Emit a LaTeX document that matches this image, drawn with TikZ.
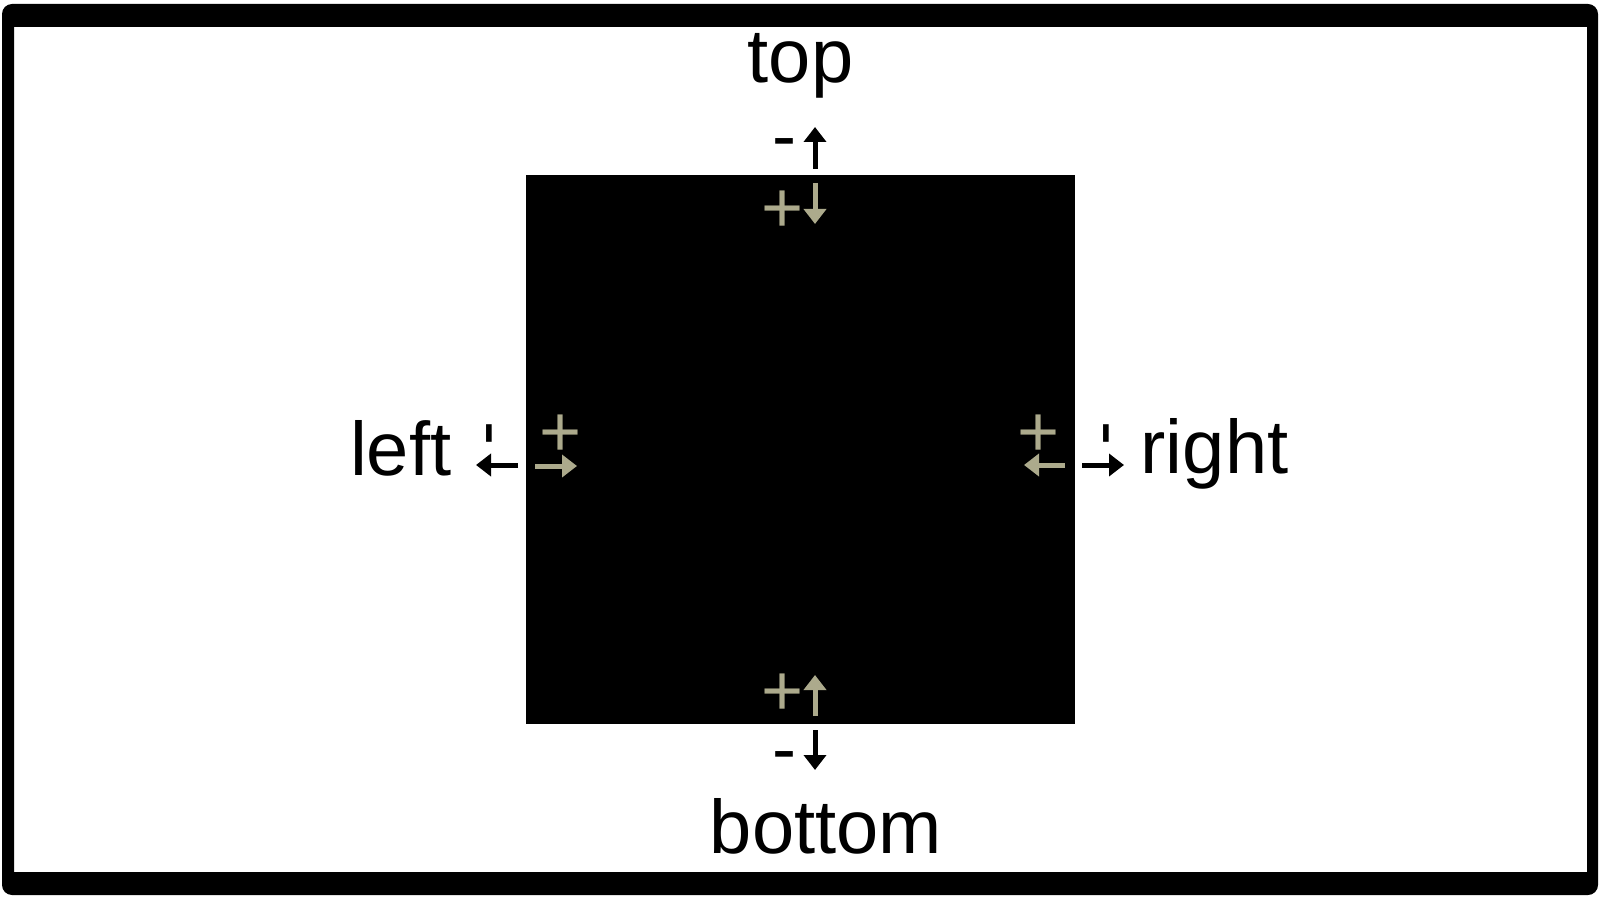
\documentclass[tikz,border=0pt]{standalone}
\usepackage{fontspec}
\setmainfont{Liberation Sans}
\usetikzlibrary{arrows.meta,positioning}
\definecolor{sand}{RGB}{172,170,140}
\tikzset{
  word/.style = {font=\fontsize{21.6}{25}\selectfont, inner sep=0pt, outer sep=0pt},
  sign/.style = {font=\fontsize{20.5}{24}\selectfont, inner sep=0pt, outer sep=0pt, anchor=base},
  pin/.style  = {line width=0.5mm, -{Triangle[width=2.2mm,length=1.5mm]}}
}

\begin{document}
\begin{tikzpicture}[x=0.1mm, y=-0.1mm]
   \useasboundingbox (0,0) rectangle (1600,900);
   % frame
   \fill[even odd rule] [rounded corners=1mm] (2,4) rectangle (1598,895)
        [sharp corners] (14,27) rectangle (1587,872);

   % nodes
   \node[fill=black, minimum size=54.9mm, inner sep=0pt] (face) at (800.5,449.5) {};
   \node[word, above=9.2mm of face.north, anchor=base] (top) {top};
   \node[word, below=12.9mm of face.south, xshift=2.55mm, anchor=base] (bottom) {bottom};
   \node[word, left=7.4mm of face.west, yshift=-2.55mm, anchor=base east] (left) {left};
   \node[word, right=6.5mm of face.east, yshift=-2.45mm, anchor=base west] (right) {right};

   % signs
   \node[sign] (tminus) at (784,161) {-};
   \node[sign, sand] (tplus) at (783,233) {+};
   \node[sign, sand] (bplus) at (783,715) {+};
   \node[sign] (bminus) at (784,773) {-};
   \node[sign, sand] (lplus) at (561,457) {+};
   \node[sign, sand] (rplus) at (1039,457) {+};
   \node[sign, rotate=90] (lminus) at (508.5,433.5) {-};
   \node[sign, rotate=90] (rminus) at (1125,433.5) {-};

   % arrows
   \draw[pin] (815,169) -- (815,127);
   \draw[pin, sand] (815,183) -- (815,224);
   \draw[pin, sand] (815,716) -- (815,675);
   \draw[pin] (815,730) -- (815,770);
   \draw[pin] (518,465) -- (476,465);
   \draw[pin, sand] (535,466) -- (577,466);
   \draw[pin, sand] (1065,465) -- (1024,465);
   \draw[pin] (1082,465) -- (1124,465);
\end{tikzpicture}
\end{document}
